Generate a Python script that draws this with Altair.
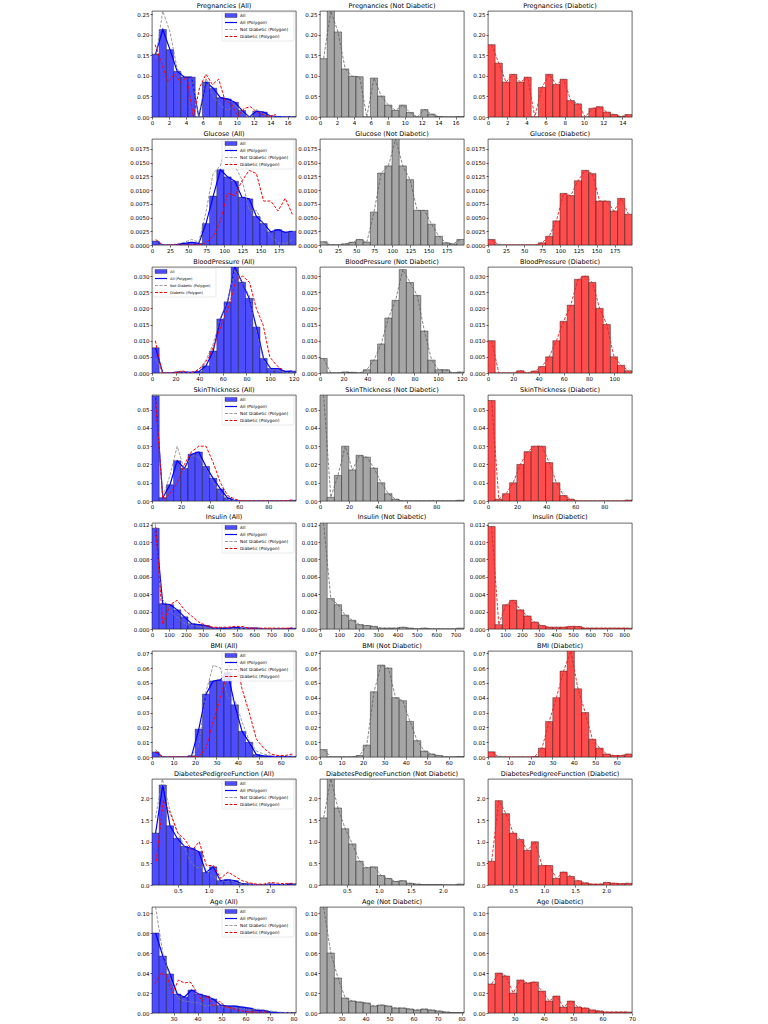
import numpy as np
import pandas as pd
import altair as alt

FEATURES = ["Pregnancies", "Glucose", "BloodPressure", "SkinThickness",
            "Insulin", "BMI", "DiabetesPedigreeFunction", "Age"]

# histogram ranges (min, max) for: all patients, not diabetic, diabetic
RANGES = {
    "Pregnancies": [(0, 17), (0, 17), (0, 15)],
    "Glucose": [(0, 199), (0, 199), (0, 199)],
    "BloodPressure": [(0, 122), (0, 122), (0, 114)],
    "SkinThickness": [(0, 99), (0, 99), (0, 99)],
    "Insulin": [(0, 846), (0, 744), (0, 846)],
    "BMI": [(0, 67.1), (0, 67.1), (0, 67.1)],
    "DiabetesPedigreeFunction": [(0.078, 2.42), (0.078, 2.329), (0.088, 2.42)],
    "Age": [(21, 81), (21, 81), (21, 70)],
}

# density of each of the 20 bins
PREG_ALL = [0.153, 0.213, 0.164, 0.111, 0.097, 0.097, 0, 0.085, 0.070, 0.047,
            0.044, 0.036, 0.016, 0, 0.014, 0.012, 0.002, 0.001, 0, 0.001]
PREG_ND = [0.142, 0.258, 0.207, 0.117, 0.099, 0.098, 0, 0.095, 0.051, 0.029,
           0.016, 0.029, 0.011, 0, 0.018, 0.007, 0.001, 0, 0, 0.001]
PREG_D = [0.176, 0.131, 0.085, 0.104, 0.085, 0.097, 0, 0.072, 0.104, 0.079,
          0.092, 0.040, 0.032, 0, 0.021, 0.025, 0.012, 0.006, 0.001, 0.006]

GLU_ALL = [0.0007, 0, 0, 0.0001, 0.0003, 0.0005, 0.0003, 0.0039, 0.0089, 0.0137,
           0.0124, 0.0116, 0.0087, 0.0084, 0.0052, 0.0039, 0.0024, 0.0028, 0.0023, 0.0025]
GLU_ND = [0.0006, 0, 0, 0.0002, 0.0005, 0.0010, 0.0005, 0.0060, 0.0131, 0.0144,
          0.0193, 0.0144, 0.0119, 0.0063, 0.0063, 0.0038, 0.0016, 0.0004, 0.0002, 0.0010]
GLU_D = [0.0010, 0, 0, 0, 0, 0, 0, 0.0004, 0.0016, 0.0044,
         0.0094, 0.0090, 0.0117, 0.0136, 0.0130, 0.0080, 0.0080, 0.0062, 0.0085, 0.0056]

BP_ALL = [0.0078, 0, 0, 0.0003, 0.0003, 0.0002, 0.0004, 0.0022, 0.0068, 0.0167,
          0.0220, 0.0328, 0.0281, 0.0231, 0.0142, 0.0045, 0.0014, 0.0014, 0.0005, 0.0006]
BP_ND = [0.0045, 0, 0, 0.0003, 0.0002, 0, 0.0010, 0.0040, 0.0090, 0.0170,
         0.0225, 0.0320, 0.0280, 0.0240, 0.0130, 0.0040, 0.0010, 0.0010, 0, 0.0003]
BP_D = [0.0100, 0, 0, 0, 0.0007, 0, 0.0006, 0.0020, 0.0050, 0.0100,
        0.0160, 0.0210, 0.0290, 0.0300, 0.0280, 0.0200, 0.0150, 0.0050, 0.0024, 0.0007]

ST_ALL = [0.0575, 0.0018, 0.0089, 0.0220, 0.0178, 0.0256, 0.0268, 0.0189, 0.0124, 0.0066,
          0.0017, 0.0002, 0, 0, 0, 0, 0, 0, 0, 0.0004]
ST_ND = [0.0580, 0.0020, 0.0140, 0.0300, 0.0170, 0.0250, 0.0240, 0.0180, 0.0100, 0.0040,
         0.0010, 0, 0, 0, 0, 0, 0, 0, 0, 0.0004]
ST_D = [0.0550, 0.0010, 0.0040, 0.0100, 0.0200, 0.0270, 0.0300, 0.0300, 0.0210, 0.0100,
        0.0030, 0.0010, 0, 0, 0, 0, 0, 0, 0, 0.0005]

INS_ALL = [0.0116, 0.0029, 0.0028, 0.0022, 0.0014, 0.0006, 0.0005, 0.0004, 0.0001, 0.0001,
           0.0001, 0.0002, 0.0001, 0.0001, 0.0001, 0, 0, 0, 0, 0.0001]
INS_ND = [0.0122, 0.0035, 0.0028, 0.0016, 0.0010, 0.0005, 0.0004, 0.0003, 0.0001, 0.0001,
          0.0001, 0.0002, 0.0001, 0, 0.0001, 0, 0, 0, 0, 0.0001]
INS_D = [0.0118, 0.0005, 0.0028, 0.0033, 0.0022, 0.0015, 0.0008, 0.0004, 0.0002, 0.0002,
         0.0002, 0.0003, 0.0003, 0.0001, 0.0001, 0.0001, 0.0001, 0.0001, 0.0001, 0.0001]

BMI_ALL = [0.0034, 0, 0, 0, 0, 0.0008, 0.0188, 0.0424, 0.0513, 0.0520,
           0.0570, 0.0352, 0.0173, 0.0099, 0.0016, 0.0007, 0.0004, 0.0002, 0.0002, 0.0004]
BMI_ND = [0.0050, 0, 0, 0, 0, 0.0010, 0.0080, 0.0440, 0.0620, 0.0600,
          0.0400, 0.0380, 0.0240, 0.0110, 0.0040, 0.0020, 0.0010, 0, 0, 0.0003]
BMI_D = [0.0035, 0, 0, 0, 0, 0, 0.0003, 0.0060, 0.0240, 0.0400,
         0.0580, 0.0715, 0.0460, 0.0300, 0.0120, 0.0060, 0.0020, 0.0010, 0.0010, 0.0020]

DPF_ALL = [1.20, 2.31, 1.37, 1.08, 0.89, 0.85, 0.77, 0.29, 0.42, 0.10,
           0.12, 0.10, 0.03, 0.02, 0.01, 0.01, 0.02, 0.01, 0.01, 0.03]
DPF_ND = [1.55, 2.45, 1.78, 1.30, 0.95, 0.55, 0.40, 0.42, 0.22, 0.15,
          0.08, 0.10, 0.04, 0.02, 0.01, 0.01, 0.01, 0, 0, 0.02]
DPF_D = [0.55, 1.95, 1.65, 1.20, 1.05, 0.80, 1.00, 0.45, 0.45, 0.15,
         0.30, 0.20, 0.10, 0.05, 0.02, 0.02, 0.06, 0.04, 0.03, 0.04]

AGE_ALL = [0.080, 0.057, 0.039, 0.019, 0.016, 0.023, 0.019, 0.017, 0.014, 0.008,
           0.007, 0.007, 0.006, 0.005, 0.003, 0.0026, 0.001, 0.0005, 0.0002, 0.0003]
AGE_ND = [0.106, 0.060, 0.035, 0.015, 0.012, 0.011, 0.010, 0.007, 0.008, 0.007,
          0.005, 0.005, 0.004, 0.003, 0.004, 0.003, 0.002, 0.001, 0.0005, 0.0005]
AGE_D = [0.029, 0.040, 0.037, 0.020, 0.033, 0.030, 0.031, 0.022, 0.012, 0.017,
         0.006, 0.012, 0.006, 0.005, 0.003, 0.002, 0.001, 0.001, 0.001, 0.001]

HEIGHTS = {
    "Pregnancies": [PREG_ALL, PREG_ND, PREG_D],
    "Glucose": [GLU_ALL, GLU_ND, GLU_D],
    "BloodPressure": [BP_ALL, BP_ND, BP_D],
    "SkinThickness": [ST_ALL, ST_ND, ST_D],
    "Insulin": [INS_ALL, INS_ND, INS_D],
    "BMI": [BMI_ALL, BMI_ND, BMI_D],
    "DiabetesPedigreeFunction": [DPF_ALL, DPF_ND, DPF_D],
    "Age": [AGE_ALL, AGE_ND, AGE_D],
}

# axis ticks for each row
X_TICKS = {
    "Pregnancies": [0, 2, 4, 6, 8, 10, 12, 14, 16],
    "Glucose": [0, 25, 50, 75, 100, 125, 150, 175],
    "BloodPressure": [0, 20, 40, 60, 80, 100, 120],
    "SkinThickness": [0, 20, 40, 60, 80],
    "Insulin": [0, 100, 200, 300, 400, 500, 600, 700, 800],
    "BMI": [0, 10, 20, 30, 40, 50, 60],
    "DiabetesPedigreeFunction": [0.5, 1.0, 1.5, 2.0],
    "Age": [30, 40, 50, 60, 70, 80],
}
X_FORMAT = {"DiabetesPedigreeFunction": ".1f"}
Y_TICKS = {
    "Pregnancies": [0, 0.05, 0.10, 0.15, 0.20, 0.25],
    "Glucose": [0, 0.0025, 0.005, 0.0075, 0.01, 0.0125, 0.015, 0.0175],
    "BloodPressure": [0, 0.005, 0.01, 0.015, 0.02, 0.025, 0.03],
    "SkinThickness": [0, 0.01, 0.02, 0.03, 0.04, 0.05],
    "Insulin": [0, 0.002, 0.004, 0.006, 0.008, 0.010, 0.012],
    "BMI": [0, 0.01, 0.02, 0.03, 0.04, 0.05, 0.06, 0.07],
    "DiabetesPedigreeFunction": [0, 0.5, 1.0, 1.5, 2.0],
    "Age": [0, 0.02, 0.04, 0.06, 0.08, 0.10],
}
Y_FORMAT = {
    "Pregnancies": ".2f", "Glucose": ".4f", "BloodPressure": ".3f",
    "SkinThickness": ".2f", "Insulin": ".3f", "BMI": ".2f",
    "DiabetesPedigreeFunction": ".1f", "Age": ".2f",
}

SUBSETS = ["All", "Not Diabetic", "Diabetic"]
BAR_FILL = ["#4d4dff", "#a6a6a6", "#ff4d4d"]
LEGEND_LABELS = ["All", "All (Polygon)", "Not Diabetic (Polygon)", "Diabetic (Polygon)"]

PANEL_W, PANEL_H = 144, 106
FONT = "DejaVu Sans"


def edges_of(lo, hi, n):
    return np.linspace(lo, hi, n + 1)


def hist_frame(rng, heights):
    e = edges_of(rng[0], rng[1], len(heights))
    return pd.DataFrame({"x0": e[:-1], "x1": e[1:], "h": heights,
                         "base": np.zeros(len(heights))})


def poly_frame(rng, heights):
    e = edges_of(rng[0], rng[1], len(heights))
    return pd.DataFrame({"x0": (e[:-1] + e[1:]) / 2, "h": heights})


def legend_layers(left_side):
    if left_side:
        bx0, bx1, fs, hx0, hx1, tx = 1, 64, 3.6, 3, 15, 18
    else:
        bx0, bx1, fs, hx0, hx1, tx = 70, 142, 4.3, 73, 85, 88
    rows_y = [4.5, 11.5, 18.5, 25.5]
    one = pd.DataFrame({"k": [0]})
    layers = [
        alt.Chart(one).mark_rect(fill="white", stroke="#cccccc", strokeWidth=0.5,
                                 cornerRadius=1, opacity=0.85).encode(
            x=alt.value(bx0), x2=alt.value(bx1), y=alt.value(1), y2=alt.value(30)),
        alt.Chart(one).mark_rect(fill=BAR_FILL[0], stroke="black", strokeWidth=0.3).encode(
            x=alt.value(hx0), x2=alt.value(hx1), y=alt.value(rows_y[0] - 2),
            y2=alt.value(rows_y[0] + 2)),
        alt.Chart(one).mark_rule(color="blue", strokeWidth=1.2).encode(
            x=alt.value(hx0), x2=alt.value(hx1), y=alt.value(rows_y[1])),
        alt.Chart(one).mark_rule(color="gray", strokeWidth=0.8, strokeDash=[3, 1.5]).encode(
            x=alt.value(hx0), x2=alt.value(hx1), y=alt.value(rows_y[2])),
        alt.Chart(one).mark_rule(color="red", strokeWidth=1.0, strokeDash=[3, 1.5]).encode(
            x=alt.value(hx0), x2=alt.value(hx1), y=alt.value(rows_y[3])),
    ]
    lab = pd.DataFrame({"label": LEGEND_LABELS, "yy": rows_y})
    layers.append(
        alt.Chart(lab).mark_text(align="left", baseline="middle", fontSize=fs,
                                 font=FONT, color="black").encode(
            x=alt.value(tx), y=alt.Y("yy:Q", scale=None), text="label:N"))
    return layers


def make_panel(feature, k):
    rng = RANGES[feature][k]
    hs = HEIGHTS[feature]
    ymax = max(max(h) for h in hs)  # rows share their y range
    xt = [t for t in X_TICKS[feature] if rng[0] <= t <= rng[1]]
    x_enc = alt.X("x0:Q", scale=alt.Scale(domain=list(rng), nice=False, zero=False),
                  axis=alt.Axis(values=xt, title=None, format=X_FORMAT.get(feature, "d")))
    y_enc = alt.Y("h:Q", scale=alt.Scale(domain=[0, ymax], nice=False),
                  axis=alt.Axis(values=Y_TICKS[feature], title=None,
                                format=Y_FORMAT[feature]))
    bars = alt.Chart(hist_frame(rng, hs[k])).mark_rect(
        fill=BAR_FILL[k], stroke="black", strokeWidth=0.4, clip=True).encode(
        x=x_enc, x2="x1:Q", y=y_enc, y2="base:Q")
    layers = [bars]
    if k == 0:
        layers.append(alt.Chart(poly_frame(RANGES[feature][0], hs[0])).mark_line(
            color="blue", strokeWidth=1.2, clip=True).encode(x=x_enc, y=y_enc))
        layers.append(alt.Chart(poly_frame(RANGES[feature][1], hs[1])).mark_line(
            color="gray", strokeWidth=0.8, strokeDash=[3, 1.5], clip=True).encode(x=x_enc, y=y_enc))
        layers.append(alt.Chart(poly_frame(RANGES[feature][2], hs[2])).mark_line(
            color="red", strokeWidth=1.0, strokeDash=[3, 1.5], clip=True).encode(x=x_enc, y=y_enc))
        layers += legend_layers(feature == "BloodPressure")
    elif k == 1:
        layers.append(alt.Chart(poly_frame(rng, hs[1])).mark_line(
            color="#555555", strokeWidth=0.7, strokeDash=[3, 1.5], clip=True).encode(x=x_enc, y=y_enc))
    else:
        layers.append(alt.Chart(poly_frame(rng, hs[2])).mark_line(
            color="#dd2222", strokeWidth=0.9, strokeDash=[3, 1.5], clip=True).encode(x=x_enc, y=y_enc))
    title = alt.TitleParams(f"{feature} ({SUBSETS[k]})", fontSize=6.5, font=FONT,
                            fontWeight="normal", color="black", offset=2)
    return alt.layer(*layers).properties(width=PANEL_W, height=PANEL_H, title=title)


panels = [make_panel(f, k) for f in FEATURES for k in range(3)]

chart = alt.ConcatChart(
    concat=panels, columns=3, bounds="flush",
    spacing={"row": 22, "column": 24},
).properties(
    padding={"left": 129, "top": 2, "right": 10, "bottom": 5},
).configure_view(
    stroke="black", strokeWidth=0.6,
).configure_axis(
    labelFontSize=5.5, labelFont=FONT, labelColor="black", tickColor="black",
    tickSize=2, tickWidth=0.6, domain=False, grid=False, labelPadding=1,
    labelFlush=False,
)

chart.save("out.html", embed_options={"renderer": "svg", "actions": False})
